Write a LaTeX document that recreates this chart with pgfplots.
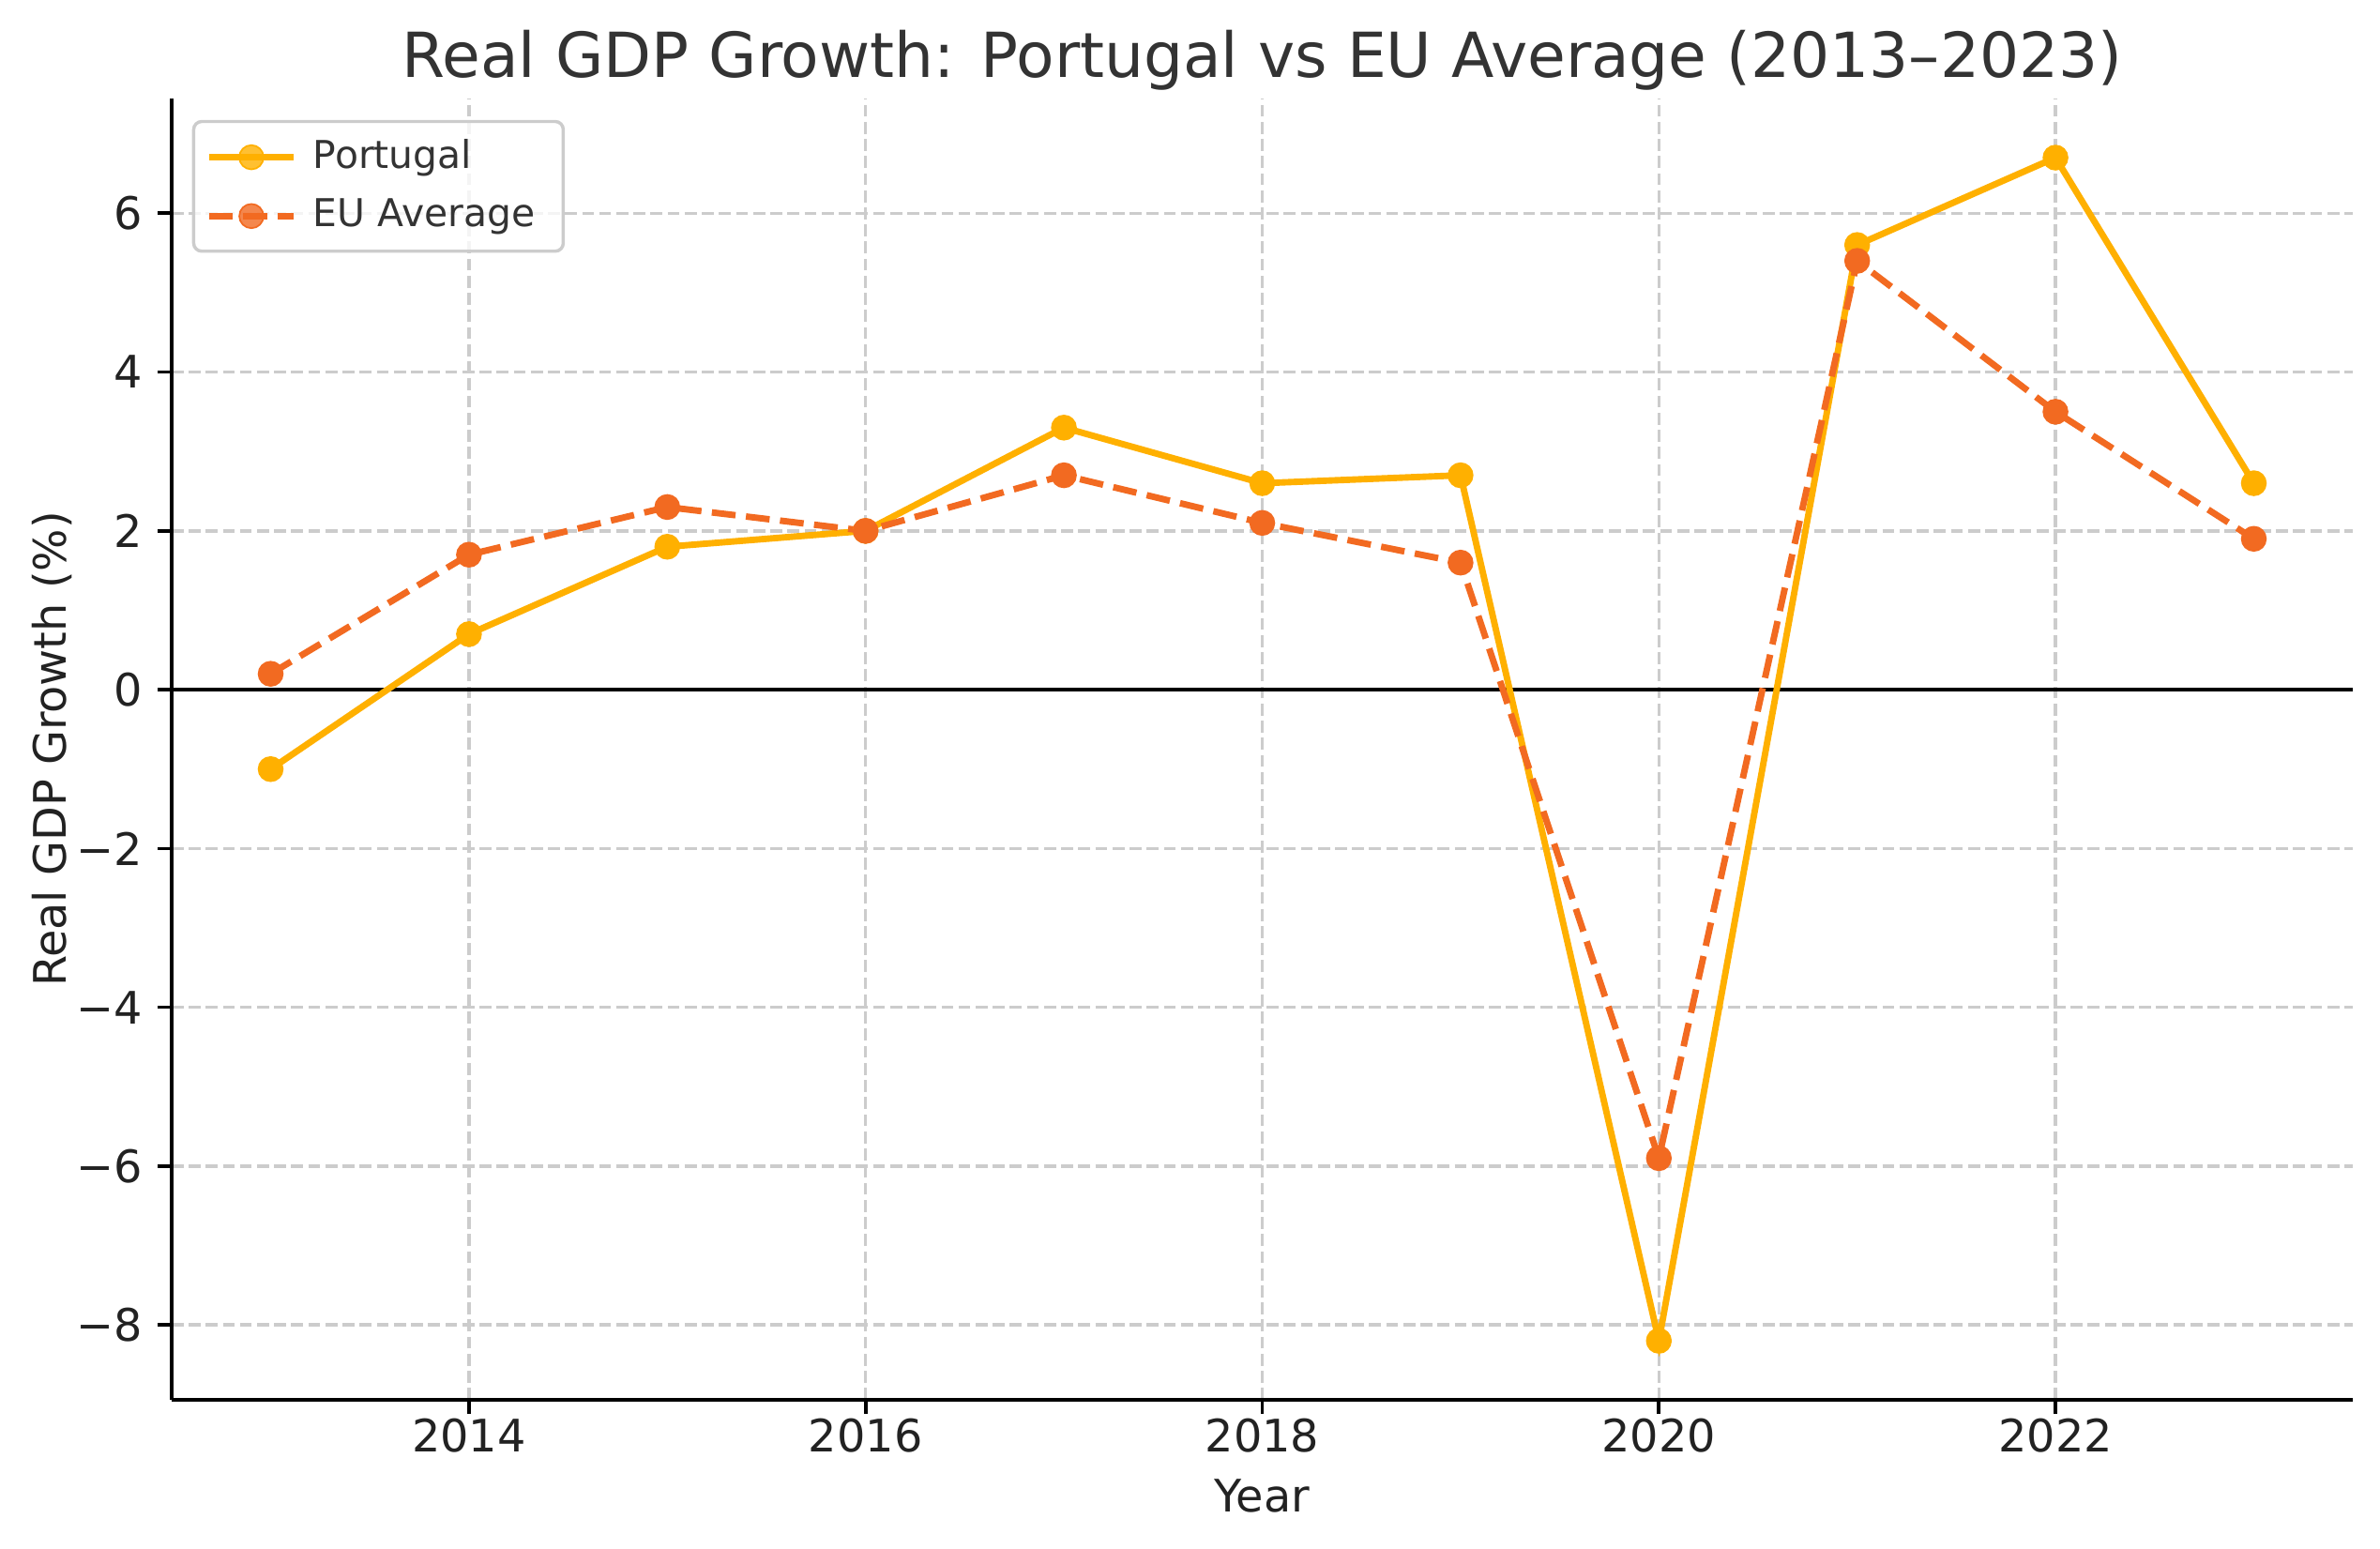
\documentclass[border=0pt]{standalone}
\usepackage{fontspec}
\setmainfont{DejaVu Sans}
\usepackage{pgfplots}
\pgfplotsset{compat=1.18}
\definecolor{ptc}{HTML}{FFB000}
\definecolor{euc}{HTML}{F26A21}
\definecolor{txt}{HTML}{333333}
\definecolor{tk}{HTML}{222222}
\definecolor{gridc}{HTML}{CCCCCC}
\begin{document}
\begin{tikzpicture}
\useasboundingbox (-42.5pt,-36.7pt) rectangle (547.3pt,346.9pt);
\begin{axis}[
  scale only axis,
  width=540.6pt, height=322.5pt,
  xmin=2012.5, xmax=2023.5,
  ymin=-8.945, ymax=7.445,
  axis x line*=bottom, axis y line*=left,
  axis line style={-, line width=0.85pt, black},
  tick align=outside,
  major tick length=3.5pt,
  tick style={line width=0.85pt, black},
  xtick={2014,2016,2018,2020,2022},
  xticklabels={2014,2016,2018,2020,2022},
  ytick={-8,-6,-4,-2,0,2,4,6},
  yticklabels={−8,−6,−4,−2,0,2,4,6},
  ticklabel style={font=\fontsize{11.1}{13}\selectfont, text=tk, inner sep=0pt},
  xticklabel style={anchor=base, yshift=-9.3pt},
  yticklabel style={anchor=east, xshift=-3.5pt},
  grid=major,
  major grid style={gridc, line width=0.8pt, dash pattern=on 2.96pt off 1.28pt},
  title={Real GDP Growth: Portugal vs EU Average (2013–2023)},
  title style={at={(axis description cs:0.5,1)}, anchor=base, yshift=-0.7pt, font=\fontsize{15.4}{18}\selectfont, text=txt},
  xlabel={Year},
  ylabel={Real GDP Growth (\%)},
  every axis x label/.style={at={(axis description cs:0.5,0)}, anchor=base, yshift=-27.7pt, font=\fontsize{11.1}{13}\selectfont, text=tk},
  every axis y label/.style={at={(axis description cs:0,0.5)}, xshift=-26pt, rotate=90, anchor=base, font=\fontsize{11.1}{13}\selectfont, text=tk},
  legend style={at={(axis description cs:0,1)}, anchor=north west, xshift=5.1pt, yshift=-5.3pt,
    draw=gridc, line width=0.8pt, rounded corners=2pt, fill=white, fill opacity=0.8, text opacity=1,
    font=\fontsize{9.5}{11}\selectfont, text=txt, inner xsep=3pt, inner ysep=2.5pt, row sep=2pt,
    nodes={inner xsep=4pt}},
  legend cell align=left,
  legend image code/.code={\draw[mark repeat=2, mark phase=2, #1] plot coordinates {(0pt,0pt) (10.5pt,0pt) (21pt,0pt)};},
]
\addplot[black, line width=0.8pt, forget plot] coordinates {(2012.5,0) (2023.5,0)};
\addplot[ptc, line width=1.6pt, mark=*, mark size=3pt, mark options={solid, fill=ptc, draw=ptc, line width=0.4pt}] coordinates {
(2013,-1.0) (2014,0.7) (2015,1.8) (2016,2.0) (2017,3.3) (2018,2.6) (2019,2.7) (2020,-8.2) (2021,5.6) (2022,6.7) (2023,2.6)};
\addlegendentry{Portugal}
\addplot[euc, line width=1.6pt, dash pattern=on 5.9pt off 2.6pt, mark=*, mark size=3pt, mark options={solid, fill=euc, draw=euc, line width=0.4pt}] coordinates {
(2013,0.2) (2014,1.7) (2015,2.3) (2016,2.0) (2017,2.7) (2018,2.1) (2019,1.6) (2020,-5.9) (2021,5.4) (2022,3.5) (2023,1.9)};
\addlegendentry{EU Average}
\end{axis}
\end{tikzpicture}
\end{document}
